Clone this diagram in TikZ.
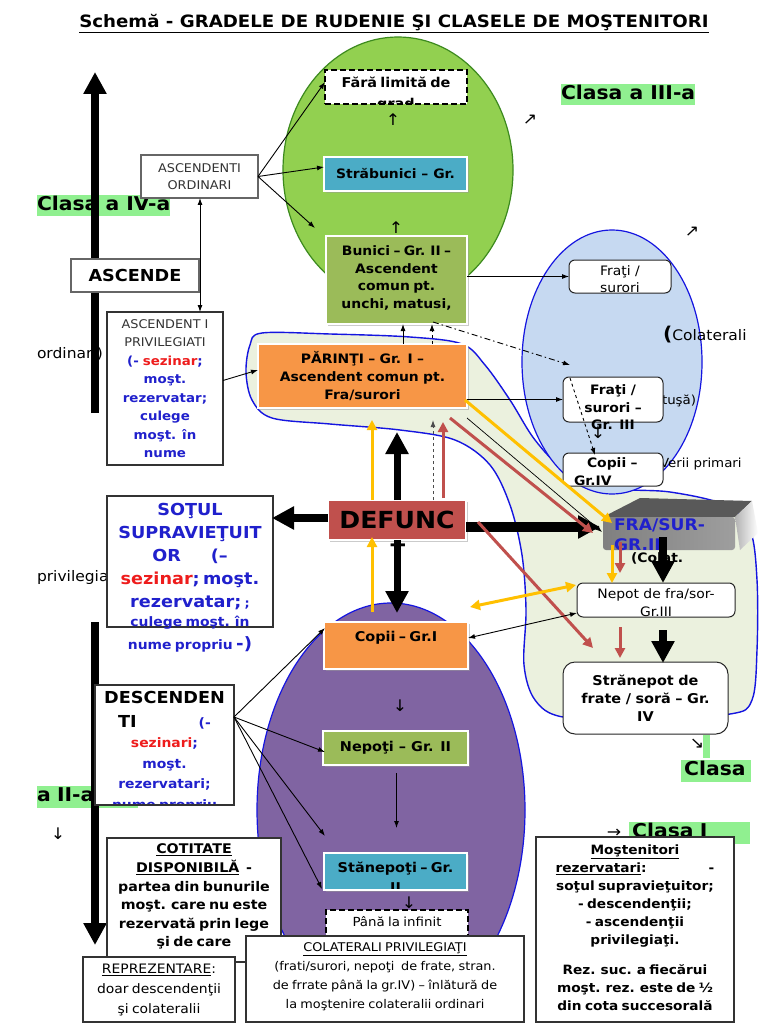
\documentclass[tikz,border=0pt]{standalone}
\usepackage{fontspec}
\setmainfont{DejaVu Sans}[FakeStretch=1.07]
\usetikzlibrary{arrows.meta,shadows,calc,shapes.geometric}
\definecolor{gfill}{HTML}{92D050}
\definecolor{gline}{HTML}{3C8A1E}
\definecolor{olivebox}{HTML}{9BBB59}
\definecolor{tealbox}{HTML}{4BACC6}
\definecolor{orangebox}{HTML}{F79646}
\definecolor{redbox}{HTML}{C0504D}
\definecolor{purplefill}{HTML}{8064A2}
\definecolor{bluefill}{HTML}{C6D9F1}
\definecolor{blobfill}{HTML}{EBF1DE}
\definecolor{blueline}{HTML}{1515E0}
\definecolor{hlgreen}{HTML}{90F090}
\definecolor{yelarrow}{HTML}{FFC000}
\definecolor{bluetxt}{HTML}{2020CC}
\definecolor{redtxt}{HTML}{EE1C1C}
\definecolor{graytxt}{HTML}{333333}
\newcommand\fsz[2]{\fontsize{#1}{#2}\selectfont}
\begin{document}
\begin{tikzpicture}[x=1pt,y=-1pt,
  every node/.style={inner sep=0pt,outer sep=0pt},
  box/.style={draw=black!80,fill=white,line width=1.1pt,anchor=north west},
  cbox/.style={fill=#1,draw=white,line width=2.5pt,anchor=north west,
    drop shadow={shadow xshift=2pt,shadow yshift=-2pt,fill=black!40}},
  rbox/.style={draw=black!85,fill=white,line width=1pt,rounded corners=6pt,anchor=north west},
  dbox/.style={draw=black,fill=white,line width=1.6pt,dash pattern=on 6pt off 3pt,anchor=north west},
  ptop/.style n args={3}{path picture={\node[anchor=north,shape=rectangle,minimum width=0pt,minimum height=0pt,inner sep=0pt,rounded corners=0pt,text width=#2,align=center] at ($(path picture bounding box.north)+(0,#1)$) {#3\endgraf};}},
  hl/.style={fill=hlgreen,anchor=north west,font=\bfseries\fsz{19}{22},text height=15.5pt,text depth=6pt,inner xsep=0pt},
  glyph/.style={font=\fsz{16}{16}},
  thin/.style={line width=0.9pt,-{Latex[length=7pt,width=5pt]}},
  big/.style={line width=8pt,-{Triangle[length=22pt,width=22pt]}},
  yarr/.style={draw=yelarrow,line width=3pt,-{Triangle[length=10pt,width=10pt]}},
  rarr/.style={draw=redbox,line width=3pt,-{Triangle[length=10pt,width=10pt]}},
]
\useasboundingbox (0,0) rectangle (768,1024);
\fill[white] (0,0) rectangle (768,1024);
\node[font=\bfseries\fsz{17}{20}] (title) at (394,24) {\underline{Schemă - GRADELE DE RUDENIE ŞI CLASELE DE MOŞTENITORI}};

% ellipses and blob
\node[ellipse,draw=gline,line width=1.2pt,fill=gfill,minimum width=230,minimum height=266] (gell) at (398,170) {};
\path[draw=blueline,line width=1.4pt,fill=blobfill] plot[smooth cycle,tension=0.55] coordinates {(262,333) (330,334) (410,337) (462,344) (485,365) (510,400) (535,440) (565,470) (610,488) (670,492) (725,505) (750,530) (757,580) (757,650) (752,700) (730,714) (640,718) (563,717) (535,700) (524,665) (526,610) (522,555) (510,505) (490,465) (455,440) (400,430) (330,424) (272,418) (252,400) (246,372) (250,345)};
\node[ellipse,draw=blueline,line width=1.2pt,fill=bluefill,minimum width=180,minimum height=264] (bell) at (612,362) {};
\node[ellipse,draw=blueline,line width=1.2pt,fill=purplefill,minimum width=268,minimum height=414] (pell) at (391,810) {};

% labels
\node[hl] (c4) at (37,195) {Clasa a IV-a};
\node[hl] (c3) at (561,84) {Clasa a III-a};
\node[hl,text width=101,align=left] (c2) at (37,786) {a II-a};
\fill[hlgreen] (703,735) rectangle (710,758);
\node[hl,text width=70,align=left] (c1b) at (681,760) {\,Clasa};
\node[hl,text width=121,align=left] (c1) at (629,822) {\,Clasa I};
\node[glyph] (g10) at (614,833) {→};
\node[anchor=west,font=\fsz{14.5}{16}] (ord) at (37,354) {ordinari)};
\node[anchor=west,font=\fsz{14.5}{16}] (priv) at (37,577) {privilegiaţi)};
\node[anchor=west,font=\fsz{14.5}{16}] (colt) at (663,335) {{\bfseries\fsz{19}{16}(}Colaterali};
\node[anchor=west,font=\fsz{12.5}{16}] (tusa) at (662,401) {tuşă)};
\node[anchor=west,font=\fsz{12.5}{16}] (verii) at (660,464) {Verii primari};

% big left arrows
\coordinate (lu1) at (95,413); \coordinate (lu2) at (95,72);
\coordinate (ld1) at (95,622); \coordinate (ld2) at (95,945);
\draw[big] (lu1) -- (lu2);
\draw[big] (ld1) -- (ld2);

% ascendents
\node[box,draw=black!60,minimum width=117,minimum height=43,text width=115,align=center,font=\fsz{12}{17.5},text=graytxt] (asco) at (141,155) {ASCENDENTI\\ORDINARI};
\node[box,minimum width=116,minimum height=153,text width=114,align=center,font=\fsz{12}{18.5}] (ascpriv) at (107,312) {\color{graytxt}ASCENDENT I\\PRIVILEGIATI\\\color{bluetxt}\bfseries\fsz{12.5}{18.5}(- \textcolor{redtxt}{sezinar};\\moşt.\\rezervatar;\\culege\\moşt. în\\nume\par};
\draw[line width=0.9pt,{Latex[length=7pt,width=5pt]}-{Latex[length=7pt,width=5pt]}] ($(ascpriv.north west)+(93,0)$) -- ($(asco.south west)+(59,0)$);
\node[box,draw=black!60,minimum width=128,minimum height=33,font=\bfseries\fsz{16.5}{20}] (ascende) at (71,259) {ASCENDE};

% green ellipse boxes
\node[dbox,minimum width=142,minimum height=34,ptop={7}{140}{\bfseries\fsz{13.5}{21}Fără limită de\\grad}] (fara) at (325,70) {};
\node[cbox=tealbox,minimum width=143,minimum height=34,font=\bfseries\fsz{13}{16}] (strab) at (324,157) {Străbunici – Gr.};
\node[cbox=olivebox,minimum width=141,minimum height=88,ptop={10}{139}{\bfseries\fsz{13}{17.5}Bunici – Gr. II –\\Ascendent\\comun pt.\\unchi, matusi,}] (bunici) at (326,236) {};
\node[glyph] (g1) at (393,120) {↑};
\node[glyph] (g2) at (396,228) {↑};
\node[glyph] (g3) at (530,120) {↗};
\node[glyph] (g4) at (692,232) {↗};

% centre
\node[cbox=orangebox,minimum width=209,minimum height=64,text width=205,align=center,font=\bfseries\fsz{13}{18}] (parinti) at (258,344) {PĂRINŢI – Gr. I --\\Ascendent comun pt.\\Fra/surori};
\node[font=\bfseries\fsz{20}{22}] (deft) at (398,551) {T};
\node[cbox=redbox,minimum width=138,minimum height=40,font=\bfseries\fsz{23.5}{26}] (defunc) at (328,500) {DEFUNC};

\node[box,minimum width=166,minimum height=131] (sotul) at (107,496) {};
\node[anchor=north,text width=166,align=center,text=bluetxt] (sotult) at (190,503) {\bfseries\fsz{16.5}{23}SOŢUL\\SUPRAVIEŢUIT\\OR\hspace{30pt}(–\\\textcolor{redtxt}{sezinar}; moşt.\\rezervatar; {\fsz{12}{23};}\par\fsz{13}{19}culege moşt. în\par\fsz{13}{23}nume propriu {\fsz{17}{23}-)}\par};

\node[box,minimum width=139,minimum height=120,ptop={6}{137}{\bfseries\fsz{16.5}{24}DESCENDEN\\TI\hspace{62pt}{\fsz{13}{24}\color{bluetxt}(-}\endgraf\fsz{13}{20.5}\color{bluetxt}\textcolor{redtxt}{sezinari};\\moşt.\\rezervatari;\\nume propriu}] (descend) at (95,685) {};

% purple ellipse boxes
\node[cbox=orangebox,minimum width=144,minimum height=47,ptop={9}{140}{\bfseries\fsz{13.5}{16}Copii – Gr.I}] (copii) at (324,622) {};
\node[cbox=olivebox,minimum width=145,minimum height=34,font=\bfseries\fsz{13.5}{16}] (nepoti) at (323,731) {Nepoţi – Gr. II};
\node[cbox=tealbox,minimum width=143,minimum height=37,ptop={9}{140}{\bfseries\fsz{13.5}{20}Stănepoţi – Gr.\\II}] (stanepoti) at (324,853) {};
\node[dbox,minimum width=142,minimum height=32,ptop={6}{140}{\fsz{12.5}{15}Până la infinit}] (panainf) at (326,910) {};
\node[glyph] (g5) at (400,706) {↓};
\node[glyph] (g6) at (409,903) {↓};

% bottom boxes
\node[box,minimum width=174,minimum height=124,ptop={6}{172}{\bfseries\fsz{13.3}{18.6}\underline{COTITATE}\\\underline{DISPONIBILĂ}\ \ -\\partea din bunurile\\moşt. care nu este\\rezervată prin lege\\şi de care}] (cotit) at (107,838) {};
\node[box,minimum width=278,minimum height=86,ptop={7}{276}{\fsz{12}{19}\underline{COLATERALI PRIVILEGIAŢI}\\(frati/surori, nepoţi\ \ de frate, stran.\\de frrate până la gr.IV) – înlătură de\\la moştenire colateralii ordinari}] (colat) at (246,936) {};
\node[box,minimum width=152,minimum height=65,ptop={7}{150}{\fsz{13}{20}\underline{REPREZENTARE}:\\doar descendenţii\\şi colateralii\\privilegiaţi}] (reprez) at (83,957) {};
\node[box,minimum width=198,minimum height=185,ptop={8}{196}{\bfseries\fsz{12.8}{18}\underline{Moştenitori}\\\underline{rezervatari}:\hspace{62pt}-\\soţul supravieţuitor;\\- descendenţii;\\- ascendenţii\\privilegiaţi.\\[12pt]Rez. suc. a fiecărui\\moşt. rez. este de ½\\din cota succesorală}] (most) at (536,837) {};

% blue ellipse boxes
\node[rbox,minimum width=102,minimum height=33] (fratis) at (569,260) {};
\node[anchor=north,text width=100,align=center,font=\fsz{13}{17}] (fratist) at ($(fratis.north)+(0,6)$) {Fraţi /\\surori};
\node[rbox,minimum width=100,minimum height=45] (fratiii) at (563,377) {};
\node[anchor=north,text width=100,align=center,font=\bfseries\fsz{13}{17.5}] (fratiiit) at ($(fratiii.north)+(0,8)$) {Fraţi /\\surori –\\Gr. III};
\node[rbox,minimum width=100,minimum height=33] (copiiiv) at (563,453) {};
\node[anchor=north west,text width=95,align=left,font=\bfseries\fsz{13}{18}] (copiiivt) at ($(copiiiv.north west)+(11,5)$) {\hspace*{13pt}Copii –\\Gr.IV};
\node[glyph] (g7) at (598,433) {↓};

% blob boxes
\node[rbox,minimum width=158,minimum height=34] (nepotfs) at (577,583) {};
\node[anchor=north,text width=156,align=center,font=\fsz{13}{18}] (nepotfst) at ($(nepotfs.north)+(0,6)$) {Nepot de fra/sor-\\Gr.III};
\node[rbox,rounded corners=12pt,minimum width=165,minimum height=72,text width=160,align=center,font=\bfseries\fsz{13.5}{18}] (stranfs) at (563,662) {Strănepot de\\frate / soră – Gr.\\IV};
\node[glyph] (g8) at (697,744) {↘};
\node[glyph] (g9) at (58,834) {↓};

% FRA/SUR 3D box
\fill[black!65] (603,517) -- (640,498) -- (752,501) -- (735,517) -- cycle;
\shade[left color=gray!60,right color=white] (735,517) -- (752,501) -- (758,533) -- (740,550) -- cycle;
\node[anchor=north west,minimum width=132,minimum height=33,rounded corners=3pt,left color=black!50,right color=black!38] (frasur) at (603,517) {};
\node[anchor=north west,align=left,font=\bfseries\fsz{16}{20},text=bluetxt] (frasurt) at (614,519) {FRA/SUR-\\GR.II};
\node[anchor=west,font=\bfseries\fsz{13}{16}] (colat2) at (631,558) {(Colat.};

% thin connectors
\draw[thin] (asco.east) -- ($(fara.west)+(0,-5)$);
\draw[thin] (asco.east) -- ($(strab.west)+(0,-7)$);
\draw[thin] (asco.east) -- ($(bunici.north west)+(-11,-8)$);
\draw[thin] ($(ascpriv.east)+(0,-8)$) -- ($(parinti.west)+(0,-6)$);
\draw[thin] (fratis.west -| bunici.east) -- (fratis.west);
\draw[thin] (fratiii.west -| parinti.east) -- (fratiii.west);
\draw[thin,dash pattern=on 6pt off 3pt on 1.5pt off 3pt] ($(bunici.south west)+(107,-2)$) -- ($(fratiii.north west)+(7,-12)$);
\draw[thin,dashed] ($(fratiii.north west)+(7,1)$) -- ($(copiiiv.north west)+(32,2)$);
\draw[thin] ($(parinti.north west)+(145,0)$) -- ($(bunici.south west)+(77,0)$);
\draw[thin,dashed] ($(parinti.north west)+(174,0)$) -- ($(bunici.south west)+(106,0)$);

% big and coloured arrows
\draw[big] ($(defunc.west)+(0,-2)$) -- ($(sotul.north east)+(-1,22)$);
\draw[big,line width=10pt] ($(defunc.east)+(0,7)$) -- ($(frasur.north west)+(-3,10)$);
\draw[big,line width=7pt] (defunc.north) -- ($(defunc.north |- parinti.south)+(0,24)$);
\draw[big,line width=7pt] (defunc.south) -- ($(defunc.south |- copii.north)+(0,-9)$);
\draw[yarr] ($(defunc.north west)+(44,0)$) -- ($(parinti.south west)+(114,12)$);
\draw[rarr] ($(defunc.north west)+(115,-2)$) -- ($(parinti.south west)+(185,14)$);
\draw[thin,dashed,draw=black!70] ($(defunc.north west)+(105,0)$) -- ($(parinti.south west)+(175,12)$);
\draw[yarr] ($(parinti.south east)+(-2,-8)$) -- ($(frasur.north west)+(9,6)$);
\draw[rarr] ($(parinti.south east)+(-17,10)$) -- ($(frasur.north west)+(-10,16)$);
\draw[thin,line width=0.7pt] ($(parinti.south east)+(0,10)$) -- ($(frasur.north west)+(-1,15)$);
\draw[rarr] ($(defunc.north east)+(12,22)$) -- ($(stranfs.north west)+(30,-14)$);
\draw[yarr] ($(copii.north west)+(48,-10)$) -- ($(defunc.south west)+(44,-3)$);
\draw[yarr] ($(frasur.south west)+(9,-5)$) -- ($(nepotfs.north west)+(35,0)$);
\draw[rarr] ($(frasur.south west)+(17,-8)$) -- ($(nepotfs.north west)+(43,-10)$);
\draw[big] ($(frasur.south west)+(60,-13)$) -- ($(nepotfs.north west)+(86,0)$);
\draw[rarr] ($(nepotfs.south west)+(43,10)$) -- ($(stranfs.north west)+(57,-4)$);
\draw[big] ($(nepotfs.south west)+(86,13)$) -- ($(stranfs.north west)+(100,1)$);
\draw[yarr,{Triangle[length=10pt,width=10pt]}-{Triangle[length=10pt,width=10pt]}] ($(copii.north east)+(2,-15)$) -- ($(nepotfs.north west)+(-1,2)$);
\draw[thin,{Latex[length=7pt,width=5pt]}-{Latex[length=7pt,width=5pt]}] ($(copii.north east)+(0,16)$) -- ($(nepotfs.south west)+(0,-4)$);

% descendants connectors
\coordinate (dsrc) at ($(descend.north east)+(0,32)$);
\draw[thin] (dsrc) -- ($(copii.north west)+(1,6)$);
\draw[thin] (dsrc) -- ($(nepoti.west)+(2,4)$);
\draw[thin] (dsrc) -- ($(stanepoti.north west)+(1,-17)$);
\draw[thin] (dsrc) -- ($(stanepoti.south west)+(-2,-1)$);
\draw[thin] ($(nepoti.south)+(1,8)$) -- ($(stanepoti.north)+(1,-25)$);
\end{tikzpicture}
\end{document}
